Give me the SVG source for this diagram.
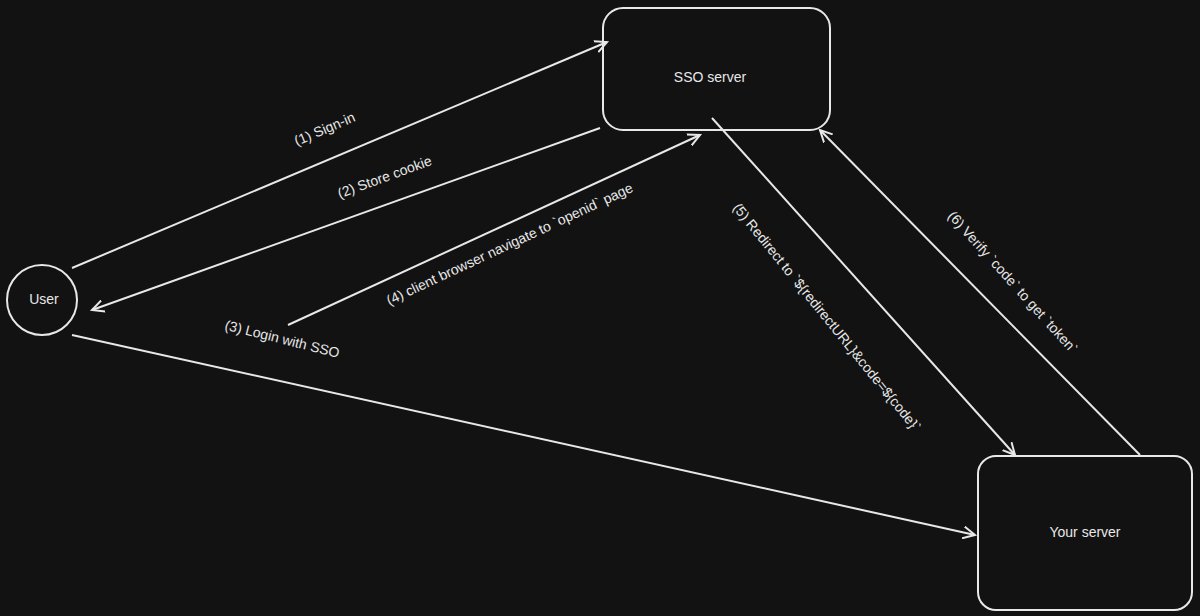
<svg xmlns="http://www.w3.org/2000/svg" width="1200" height="616" viewBox="0 0 1200 616">
<style>
.n{fill:none;stroke:#e8e8e8;stroke-width:2}
.c{fill:none;stroke:#e8e8e8;stroke-width:2;marker-end:url(#a)}
text{fill:#e8e8e8;font-family:"Liberation Sans",sans-serif;font-size:14px;text-anchor:middle;dominant-baseline:middle}
</style>
<defs><marker id="a" markerWidth="14" markerHeight="14" refX="12" refY="7" orient="auto" markerUnits="userSpaceOnUse"><path d="M0,1 L12,7 L0,13" fill="none" stroke="#e8e8e8" stroke-width="2"/></marker></defs>
<rect width="1200" height="616" fill="#121212"/>
<g id="sso"><rect class="n" x="603" y="8" width="227" height="122" rx="20"/><text x="710" y="78">SSO server</text></g>
<g id="user"><circle class="n" cx="42" cy="300" r="35"/><text x="44" y="300">User</text></g>
<g id="your"><rect class="n" x="978" y="456" width="214" height="154" rx="18"/><text x="1085" y="533">Your server</text></g>
<g id="connectors">
<path class="c" d="M72,268 L607,42"/>
<path class="c" d="M600,128 L92,310"/>
<path class="c" d="M288,325 L700,135"/>
<path class="c" d="M72,335 L975,535"/>
<path class="c" d="M712,118 L1015,455"/>
<path class="c" d="M1140,455 L820,130"/>
</g>
<g id="labels">
<text transform="translate(325,130) rotate(-23)">(1) Sign-in</text>
<text transform="translate(385,178) rotate(-20)">(2) Store cookie</text>
<text transform="translate(282,340) rotate(14)">(3) Login with SSO</text>
<text transform="translate(510,245) rotate(-25)">(4) client browser navigate to `openid` page</text>
<text transform="translate(826,318) rotate(51)">(5) Redirect to `${redirectURL}&amp;code=${code}`</text>
<text transform="translate(1012,283) rotate(48)">(6) Verify `code` to get `token`</text>
</g>
</svg>
